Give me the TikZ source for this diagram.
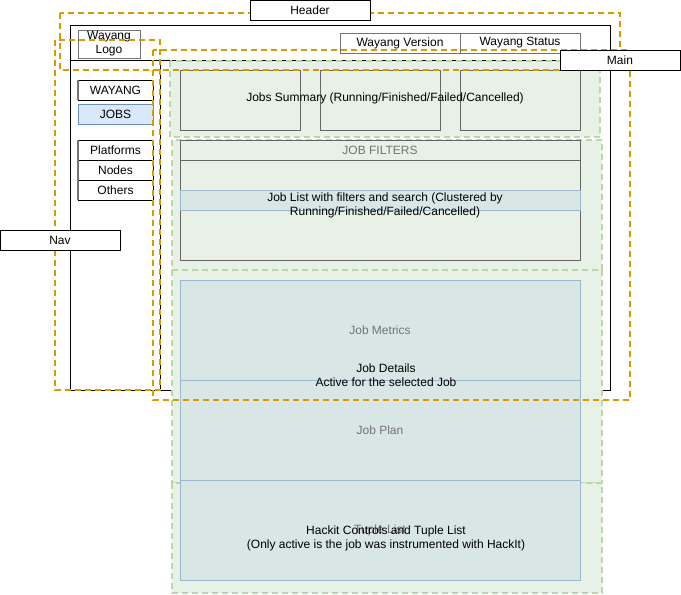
\documentclass[tikz,border=0pt]{standalone}
\usepackage{fontspec}
\setmainfont{Liberation Sans}
\definecolor{regc}{HTML}{D79B00}
\definecolor{grpfill}{HTML}{E8F1E6}
\definecolor{grpline}{HTML}{B9D7A8}
\definecolor{panefill}{HTML}{D8E7E5}
\definecolor{paneline}{HTML}{9CB8CF}
\definecolor{jobsfill}{HTML}{DAE8FC}
\definecolor{jobsline}{HTML}{6C8EBF}
\begin{document}
\begin{tikzpicture}[x=1pt,y=-1pt,
  every node/.style={font=\fontsize{12}{14}\selectfont, align=center, inner sep=0pt},
  box/.style={draw=black, fill=white, minimum width=120pt, minimum height=20pt},
  navitem/.style={draw=black, fill=white, minimum width=75pt, minimum height=20pt},
  region/.style={draw=regc, line width=1.5pt, dash pattern=on 6pt off 4pt},
  grp/.style={draw=grpline, fill=grpfill, line width=1.5pt, dash pattern=on 6pt off 4pt},
  card/.style={draw=black!60},
  pane/.style={draw=paneline, fill=panefill},
  gtext/.style={text=black!55}
]
\useasboundingbox (0,0) rectangle (681,595);
% page frame
\draw[black] (70,25) rectangle (610,390);
\draw (70,60) -- (610,60);
\draw (160,60) -- (160,390);
% green groups
\draw[grp] (170,61) rectangle (600,137);
\draw[grp] (172,140) rectangle (602,270);
\draw[grp] (172,270) rectangle (602,483);
\draw[grp, line width=2.5pt] (172,483) rectangle (602,593);
% summary cards
\node[card, minimum width=120pt, minimum height=60pt] (s1) at (240,100) {};
\node[card, minimum width=120pt, minimum height=60pt] (s2) at (380,100) {};
\node[card, minimum width=120pt, minimum height=60pt] (s3) at (520,100) {};
\node (st) at (385,98) {Jobs Summary (Running/Finished/Failed/Cancelled)};
% filters
\node[card, minimum width=400pt, minimum height=120pt] (jl) at (380,200) {};
\draw[black!60] (180,160) -- (580,160);
\node[gtext] (jf) at (380,150) {JOB FILTERS};
\node[pane, minimum width=400pt, minimum height=20pt] (strip) at (380,200) {};
\node (jlt) at (385,205) {Job List with filters and search (Clustered by\\Running/Finished/Failed/Cancelled)};
% details panes
\node[pane, minimum width=400pt, minimum height=100pt] (jm) at (380,330) {};
\node[pane, minimum width=400pt, minimum height=100pt] (jp) at (380,430) {};
\node[pane, minimum width=400pt, minimum height=100pt] (tl) at (380,530) {};
\node[gtext] at (jm) {Job Metrics};
\node[gtext] at (jp) {Job Plan};
\node[gtext] at (380,530) {Tuple List};
\node (jd) at (386,375) {Job Details\\Active for the selected Job};
\node (hk) at (386,538) {Hackit Controls and Tuple List\\(Only active is the job was instrumented with HackIt)};
% header items
\node[draw=black!55, line width=1pt, fill=white, minimum width=62pt, minimum height=28pt] (logo) at (109,44) {Wayang\\Logo};
\node[draw=black!55, line width=1pt, fill=white, minimum width=120pt, minimum height=20pt] (ver) at (400,43) {Wayang Version};
\node[draw=black!55, line width=1pt, fill=white, minimum width=120pt, minimum height=20pt] (sta) at (520,43) {Wayang Status};
% nav items
\node[navitem] (wy) at (115.5,90) {WAYANG};
\node[navitem, draw=jobsline, fill=jobsfill] (jobs) at (115.5,114) {JOBS};
\node[navitem] (pl) at (115.5,150) {Platforms};
\node[navitem] (nd) at (115.5,170) {Nodes};
\node[navitem] (ot) at (115.5,190) {Others};
\draw[black!55, line width=1.5pt] (78,80) -- (78,100) (78,140) -- (78,200);
% orange regions
\draw[region] (60,13) rectangle (620,70);
\draw[region] (55,40) rectangle (160,390);
\draw[region] (153,50) rectangle (630,400);
% labels
\node[box] (hd) at (310,10) {Header};
\node[box] (mn) at (620,60) {Main};
\node[box] (nv) at (60,240) {Nav};
\end{tikzpicture}
\end{document}
